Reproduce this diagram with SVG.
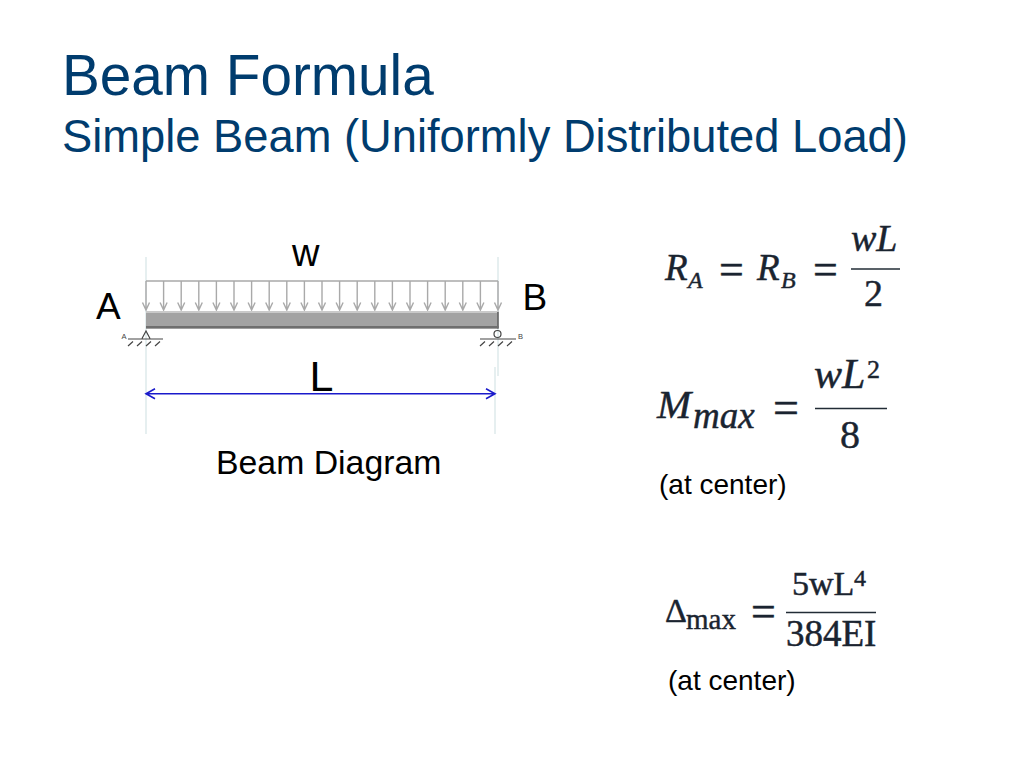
<svg xmlns="http://www.w3.org/2000/svg" width="1024" height="768" viewBox="0 0 1024 768">
<defs>
<style>
.s{font-family:"Liberation Sans",Arial,sans-serif}
.t{fill:#003c6e}
.k{fill:#000}
.m{font-family:"Liberation Serif","Times New Roman",serif;fill:#1a2430;stroke:#1a2430;stroke-width:.45}
.i{font-style:italic}
.load{stroke:#a9a9a9;stroke-width:1.4;fill:none}
.g{stroke:#444;stroke-width:1.2;fill:none}
.ext{stroke:#d6e4e6;stroke-width:1.2;fill:none}
.blue{stroke:#1a1acb;stroke-width:1.6;fill:none}
.bar{stroke:#222c36;stroke-width:1.6;fill:none}
</style>
<path id="dn" class="load" d="M0 0V29M-3.5 21.500L0 29L3.500 21.500"/>
</defs>
<rect width="1024" height="768" fill="#fff"/>
<g id="title">
<text class="s t" x="62" y="95" font-size="56.700">Beam Formula</text>
<text class="s t" x="62" y="152" font-size="45.300">Simple Beam (Uniformly Distributed Load)</text>
</g>
<g id="connectors">
<path class="ext" d="M146 257V434M498 257V376M495 367V434"/>
<path class="load" d="M146 281H498"/>
<use href="#dn" x="146" y="281"/><use href="#dn" x="163.600" y="281"/><use href="#dn" x="181.200" y="281"/><use href="#dn" x="198.800" y="281"/><use href="#dn" x="216.400" y="281"/><use href="#dn" x="234" y="281"/><use href="#dn" x="251.600" y="281"/><use href="#dn" x="269.200" y="281"/><use href="#dn" x="286.800" y="281"/><use href="#dn" x="304.400" y="281"/><use href="#dn" x="322" y="281"/><use href="#dn" x="339.600" y="281"/><use href="#dn" x="357.200" y="281"/><use href="#dn" x="374.800" y="281"/><use href="#dn" x="392.400" y="281"/><use href="#dn" x="410" y="281"/><use href="#dn" x="427.600" y="281"/><use href="#dn" x="445.200" y="281"/><use href="#dn" x="462.800" y="281"/><use href="#dn" x="480.400" y="281"/><use href="#dn" x="498" y="281"/>
<path class="blue" d="M146 393.700H495M155 388.700L146 393.700L155 398.700M486 388.700L495 393.700L486 398.700"/>
</g>
<g id="beam">
<rect x="146" y="311" width="352.500" height="17.500" fill="#a3a3a3"/>
<rect x="146" y="311" width="352.500" height="2" fill="#c9c9c9"/>
<rect x="146" y="326" width="352.500" height="2.500" fill="#6f6f6f"/>
<rect x="497" y="312" width="1.800" height="16.500" fill="#6f6f6f"/>
</g>
<g id="support-a">
<path class="g" d="M142 338.500L146 331L150 338.500M128 339H163M128 346L133 341.500M137 346L142 341.500M146 346L151 341.500M155 346L160 341.500"/>
<text class="s" x="121.500" y="339" font-size="7.500" fill="#444">A</text>
</g>
<g id="support-b">
<circle class="g" cx="497.500" cy="334" r="3.500"/>
<path class="g" d="M480 339H516M480 346L485 341.500M489 346L494 341.500M498 346L503 341.500M507 346L512 341.500"/>
<text class="s" x="518" y="339" font-size="7.500" fill="#444">B</text>
</g>
<g id="labels">
<text class="s k" x="292" y="266" font-size="38">w</text>
<text class="s k" x="96" y="319" font-size="37">A</text>
<text class="s k" x="522.500" y="310" font-size="37">B</text>
<text class="s k" x="309.500" y="391" font-size="43">L</text>
<text class="s k" x="216" y="474" font-size="33.800">Beam Diagram</text>
<text class="s k" x="659" y="494" font-size="28">(at center)</text>
<text class="s k" x="668" y="690" font-size="28">(at center)</text>
</g>
<g id="formula-reactions">
<text class="m i" x="665" y="280" font-size="37">R</text>
<text class="m i" x="688" y="288" font-size="24">A</text>
<text class="m" x="719" y="284" font-size="44">=</text>
<text class="m i" x="757" y="280" font-size="37">R</text>
<text class="m i" x="781" y="288" font-size="24">B</text>
<text class="m" x="813" y="284" font-size="44">=</text>
<text class="m i" x="851" y="251" font-size="38">wL</text>
<path class="bar" d="M851 269H900"/>
<text class="m" x="864" y="306" font-size="38">2</text>
</g>
<g id="formula-moment">
<text class="m i" x="657" y="418" font-size="41">M</text>
<text class="m i" x="693" y="428" font-size="37">max</text>
<text class="m" x="773" y="423" font-size="46">=</text>
<text class="m i" x="814" y="388" font-size="42">wL</text>
<text class="m" x="867" y="378" font-size="26">2</text>
<path class="bar" d="M815 408.500H887"/>
<text class="m" x="840" y="448" font-size="40">8</text>
</g>
<g id="formula-deflection">
<text class="m" x="665" y="622" font-size="34">Δ</text>
<text class="m" x="686" y="629" font-size="29">max</text>
<text class="m" x="751" y="626" font-size="44">=</text>
<text class="m" x="792" y="595" font-size="34">5wL</text>
<text class="m" x="854" y="586" font-size="24">4</text>
<path class="bar" d="M786 612.500H876"/>
<text class="m" x="786" y="646" font-size="37">384EI</text>
</g>
</svg>
